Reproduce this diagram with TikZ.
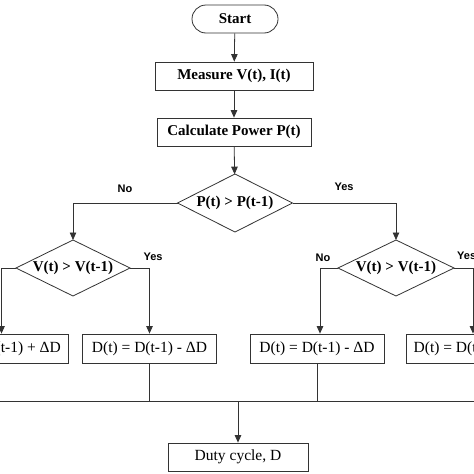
\documentclass[tikz,border=0pt]{standalone}
\usepackage{fontspec}
\setmainfont{Liberation Serif}
\newfontfamily\lblfont{Liberation Sans}
\usetikzlibrary{arrows.meta,shapes.geometric}
\begin{document}
\begin{tikzpicture}[x=1pt,y=-1pt,
  ln/.style={draw=black!80, line width=0.8pt},
  box/.style={draw=black!80, line width=0.8pt, rectangle, minimum height=28pt, inner sep=0pt, font=\fontsize{15}{17}\selectfont\bfseries},
  dbox/.style={draw=black!80, line width=0.8pt, rectangle, minimum height=29pt, minimum width=134pt, inner sep=0pt, font=\fontsize{15.5}{17}\selectfont},
  dia/.style={draw=black!80, line width=0.8pt, diamond, inner sep=0pt, outer sep=0pt},
  diatext/.style={font=\fontsize{15}{17}\selectfont\bfseries, inner sep=0pt},
  lbl/.style={font=\lblfont\fontsize{11}{13}\selectfont\bfseries, inner sep=0pt},
  arr/.style={ln, -{Triangle[length=7.5pt,width=6.5pt]}}]
\fill[white] (0,0) rectangle (474,474);
\useasboundingbox (0,0) rectangle (474,474);
\clip (0,0) rectangle (474,474);

\node[box, minimum width=86pt, minimum height=28pt, rounded corners=14pt] (start) at (235,19) {Start};
\node[box, minimum width=158pt] (meas) at (234,76) {Measure V(t), I(t)};
\node[box, minimum width=154pt] (calc) at (234,132) {Calculate Power P(t)};

\node[dia, minimum width=115pt, minimum height=58pt] (d1) at (235,203) {};
\node[diatext] (t1) at (d1.center) {P(t) > P(t-1)};
\node[dia, minimum width=114pt, minimum height=56pt] (d2) at (73,268) {};
\node[diatext] (t2) at (d2.center) {V(t) > V(t-1)};
\node[dia, minimum width=116pt, minimum height=56pt] (d3) at (396,268) {};
\node[diatext] (t3) at (d3.center) {V(t) > V(t-1)};

\node[dbox] (b1) at (1.5,348.5) {D(t) = D(t-1) + ΔD};
\node[dbox] (b2) at (149.5,348.5) {D(t) = D(t-1) - ΔD};
\node[dbox] (b3) at (317,348.5) {D(t) = D(t-1) - ΔD};
\node[dbox] (b4) at (473,348.5) {D(t) = D(t-1) + ΔD};

\node[dbox, minimum width=140pt, minimum height=28pt] (duty) at (238,457) {Duty cycle, D};

\coordinate (m) at (238,401);
\coordinate (mL) at (-2,401);
\coordinate (mR) at (476,401);

\draw[arr] (start) -- (meas);
\draw[arr] (meas) -- (calc);
\draw[arr] (calc) -- (d1);
\draw[arr] (d1.west) -| (d2.north);
\draw[arr] (d1.east) -| (d3.north);
\draw[arr] (d2.west) -| (b1.north);
\draw[arr] (d2.east) -| (b2.north);
\draw[arr] (d3.west) -| ([xshift=3pt]b3.north);
\draw[arr] (d3.east) -| (b4.north);

\draw[ln] (mL) -- (mR);
\draw[ln] (b2.south) -- (b2.south |- m);
\draw[ln] (b3.south) -- (b3.south |- m);
\draw[arr] (m) -- (duty);

\node[lbl] (l1) at (125,189) {No};
\node[lbl] (l2) at (344,187) {Yes};
\node[lbl] (l3) at (153,257) {Yes};
\node[lbl] (l4) at (323,258) {No};
\node[lbl, anchor=west] (l5) at (457,256) {Yes};
\end{tikzpicture}
\end{document}
